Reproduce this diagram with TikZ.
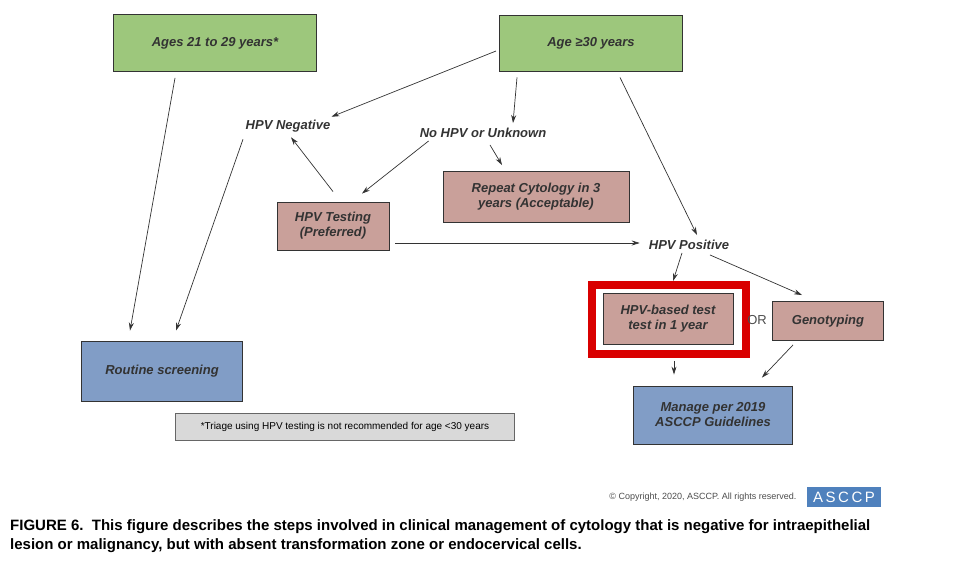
\documentclass[tikz,border=0pt]{standalone}
\usepackage{fontspec}
\setmainfont{Liberation Sans}
\usetikzlibrary{arrows.meta,positioning,calc}
\definecolor{agegreen}{HTML}{9DC77C}
\definecolor{testpink}{HTML}{C9A09A}
\definecolor{manblue}{HTML}{819DC6}
\definecolor{ascblue}{HTML}{4F81BD}
\tikzset{
  box/.style={draw=black!80, line width=0.9pt, align=center, font=\fontsize{13}{15}\selectfont\bfseries\itshape, text=black!80},
  agebox/.style={box, fill=agegreen},
  testbox/.style={box, fill=testpink},
  endbox/.style={box, fill=manblue},
  lbl/.style={font=\fontsize{13}{15}\selectfont\bfseries\itshape, text=black!80, inner sep=1pt},
  arr/.style={-{Stealth[length=8pt,width=5pt]}, black!80, line width=0.7pt}
}
\begin{document}
\begin{tikzpicture}[x=1pt,y=-1pt]
\useasboundingbox (0,0) rectangle (953,560);
						\node[agebox, minimum width=203pt, minimum height=57pt] (young) at (215,43) {Ages 21 to 29 years*};
						\node[agebox, minimum width=183pt, minimum height=56pt] (old) at (591,43) {Age ≥30 years};
						\node[lbl] (neg) at (288,126) {HPV Negative};
						\node[lbl] (unk) at (483,133) {No HPV or Unknown};
						\node[testbox, minimum width=186pt, minimum height=51pt] (repeat) at (536,197) {Repeat Cytology in 3\\years (Acceptable)};
						\node[testbox, minimum width=112pt, minimum height=48pt] (testing) at (333,226) {HPV Testing\\(Preferred)};
						\node[lbl] (pos) at (689,245) {HPV Positive};
						\node[testbox, minimum width=130pt, minimum height=51pt] (based) at (668,319) {HPV-based test\\test in 1 year};
						\draw[red!85!black, line width=8pt] (592,285) rectangle (746,354);
						\node[lbl, font=\fontsize{13}{15}\selectfont, text=black!70] (or) at (757,320) {OR};
						\node[testbox, minimum width=111pt, minimum height=39pt] (geno) at (828,321) {Genotyping};
						\node[endbox, minimum width=159pt, minimum height=58pt] (manage) at (713,415) {Manage per 2019\\ASCCP Guidelines};
						\node[endbox, minimum width=161pt, minimum height=60pt] (routine) at (162,371) {Routine screening};
						\node[draw=black!60, fill=black!15, minimum width=339pt, minimum height=27pt, font=\fontsize{10}{12}\selectfont] (note) at (345,427) {*Triage using HPV testing is not recommended for age \textless30 years};
						
						\draw[arr] ($(young.south)+(-40,6)$) -- ($(routine.north)+(-32,-10)$);
						\draw[arr] ($(neg.south)+(-45,6)$) -- ($(routine.north)+(14,-10)$);
						\draw[arr] ($(old.west)+(-3,8)$) -- ($(neg.north east)+(0,-2)$);
						\draw[arr] ($(old.south)+(-74,6)$) -- ($(unk.north)+(30,-4)$);
						\draw[arr] ($(old.south)+(29,6)$) -- ($(pos.north)+(8,-4)$);
						\draw[arr] ($(unk.south west)+(10,2)$) -- ($(testing.north)+(29,-8)$);
						\draw[arr] ($(unk.south)+(7,6)$) -- ($(repeat.north)+(-34,-6)$);
						\draw[arr] ($(testing.north)+(0,-10)$) -- ($(neg.south)+(3,4)$);
						\draw[arr] ($(testing.east)+(6,17)$) -- ($(pos.west)+(-8,-2)$);
						\draw[arr] ($(pos.south)+(-7,2)$) -- ($(based.north)+(5,-12)$);
						\draw[arr] ($(pos.south)+(21,4)$) -- ($(geno.north)+(-26,-6)$);
						\draw[arr] ($(based.south)+(6,16)$) -- ($(manage.north)+(-39,-11)$);
						\draw[arr] ($(geno.south)+(-35,4)$) -- ($(manage.north east)+(-31,-8)$);
						
						\node[font=\fontsize{9}{11}\selectfont, text=black!70, anchor=east] (copy) at (800,497) {\textcopyright\ Copyright, 2020, ASCCP. All rights reserved.};
						\node[fill=ascblue, minimum width=74pt, minimum height=20pt, font=\fontsize{15}{15}\selectfont, text=white] (logo) at (844,497) {A\,S\,C\,C\,P};
						\node[anchor=north west, align=left, font=\fontsize{15}{19}\selectfont\bfseries, inner sep=0pt] (caption) at (10,519) {FIGURE 6.\ \ This figure describes the steps involved in clinical management of cytology that is negative for intraepithelial\\lesion or malignancy, but with absent transformation zone or endocervical cells.};
\end{tikzpicture}
\end{document}
